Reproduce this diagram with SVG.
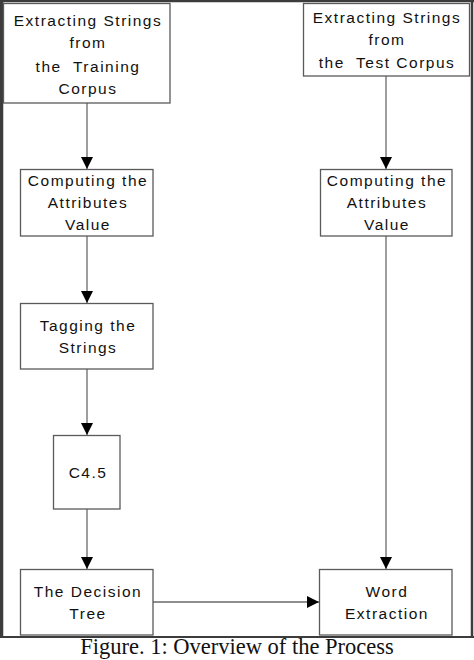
<svg xmlns="http://www.w3.org/2000/svg" width="474" height="660" viewBox="0 0 474 660">
<style>
.box{fill:#fff;stroke:#5a5a5a;stroke-width:1.3}
.t{font-family:"Liberation Sans",Arial,sans-serif;font-size:15.5px;letter-spacing:1.5px;fill:#111;text-anchor:middle}
.c{stroke:#6a6a6a;stroke-width:1.3;fill:none}
.cap{font-family:"Liberation Serif","Times New Roman",serif;font-size:22.5px;fill:#111;text-anchor:middle}
</style>
<defs>
<marker id="ah" markerWidth="12" markerHeight="12" refX="12" refY="6" orient="auto" markerUnits="userSpaceOnUse">
<path d="M0,0 L12,6 L0,12 Z" fill="#000"/>
</marker>
</defs>
<rect width="474" height="660" fill="#fff"/>
<g id="frame">
<path d="M1.5,0 V637" stroke="#3c3c3c" stroke-width="3.5" fill="none"/>
<path d="M0,1 H474" stroke="#3c3c3c" stroke-width="2.5" fill="none"/>
<path d="M472,0 V638" stroke="#3c3c3c" stroke-width="2.5" fill="none"/>
<path d="M0,637 H474" stroke="#3c3c3c" stroke-width="2" fill="none"/>
</g>
<g id="connectors">
<path class="c" d="M87,103 V169" marker-end="url(#ah)"/>
<path class="c" d="M87,236 V303" marker-end="url(#ah)"/>
<path class="c" d="M87,369 V435" marker-end="url(#ah)"/>
<path class="c" d="M87,509 V569" marker-end="url(#ah)"/>
<path class="c" d="M386,76 V169" marker-end="url(#ah)"/>
<path class="c" d="M386,236 V569" marker-end="url(#ah)"/>
<path class="c" d="M153,602 H319" marker-end="url(#ah)"/>
</g>
<g id="n1">
<rect class="box" x="3.5" y="3.5" width="166.5" height="99.5"/>
<text class="t" x="88" y="26">Extracting Strings</text>
<text class="t" x="88" y="48">from</text>
<text class="t" x="88" y="72" xml:space="preserve">the  Training</text>
<text class="t" x="88" y="94">Corpus</text>
</g>
<g id="n2">
<rect class="box" x="303.5" y="3.5" width="166" height="72.5"/>
<text class="t" x="387" y="23">Extracting Strings</text>
<text class="t" x="387" y="45">from</text>
<text class="t" x="387" y="68" xml:space="preserve">the  Test Corpus</text>
</g>
<g id="n3">
<rect class="box" x="20.5" y="169.5" width="132.5" height="66.5"/>
<text class="t" x="88" y="186">Computing the</text>
<text class="t" x="88" y="208">Attributes</text>
<text class="t" x="88" y="230">Value</text>
</g>
<g id="n4">
<rect class="box" x="320.5" y="169.5" width="131.5" height="66.5"/>
<text class="t" x="387" y="186">Computing the</text>
<text class="t" x="387" y="208">Attributes</text>
<text class="t" x="387" y="230">Value</text>
</g>
<g id="n5">
<rect class="box" x="20.5" y="303.5" width="132.5" height="65.5"/>
<text class="t" x="88" y="331">Tagging the</text>
<text class="t" x="88" y="353">Strings</text>
</g>
<g id="n6">
<rect class="box" x="53.5" y="435.5" width="66.5" height="73.5"/>
<text class="t" x="88" y="478">C4.5</text>
</g>
<g id="n7">
<rect class="box" x="20.5" y="569.5" width="132.5" height="65.5"/>
<text class="t" x="88" y="597">The Decision</text>
<text class="t" x="88" y="619">Tree</text>
</g>
<g id="n8">
<rect class="box" x="319.5" y="569.5" width="132.5" height="65.5"/>
<text class="t" x="387" y="597">Word</text>
<text class="t" x="387" y="619">Extraction</text>
</g>
<text class="cap" x="237" y="654">Figure. 1: Overview of the Process</text>
</svg>
